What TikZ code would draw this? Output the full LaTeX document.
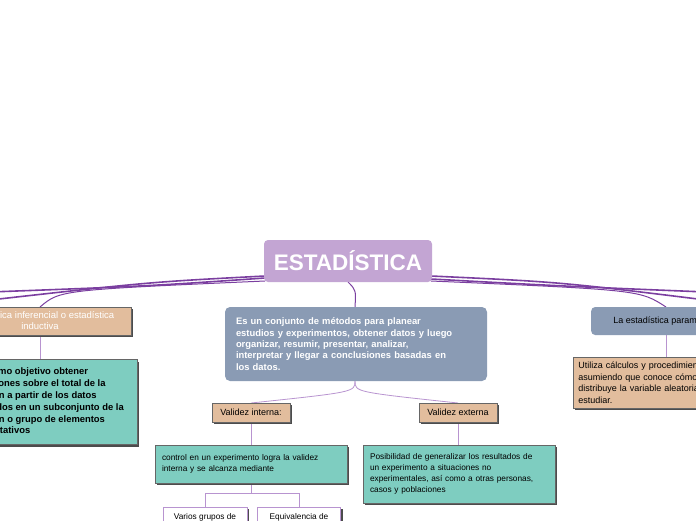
\documentclass[tikz,border=0pt]{standalone}
\usepackage{fontspec}
\setmainfont{Liberation Sans}
\usetikzlibrary{shadows}
\definecolor{tit}{HTML}{C3A5D3}
\definecolor{blu}{HTML}{8A9BB4}
\definecolor{tan}{HTML}{E2BD9D}
\definecolor{grn}{HTML}{7ECDC0}
\definecolor{thk}{HTML}{7B3FA0}
\definecolor{thn}{HTML}{B894D0}
\tikzset{
 px/.style={x=1pt,y=-1pt},
 sh/.style={drop shadow={shadow xshift=2pt,shadow yshift=-2pt,fill=black!70,opacity=1}},
 box/.style={draw=black!60,line width=0.5pt,sh,inner sep=0pt},
 thick line/.style={draw=thk,line width=1.6pt},
 thin line/.style={draw=thn,line width=0.8pt},
}
\hyphenpenalty=10000
\exhyphenpenalty=10000
\begin{document}
\begin{tikzpicture}[px]
\useasboundingbox (0,0) rectangle (696,520);
\clip (0,0) rectangle (696,520);
\draw[thick line] (265,276) .. controls (150,282) .. (-10,300);
\draw[thick line] (265,278) .. controls (150,286) .. (-10,292);
\draw[thick line] (431,276) .. controls (560,282) .. (706,300);
\draw[thick line] (431,279) .. controls (560,286) .. (706,292);
\draw[thk,line width=1pt] (265,281) .. controls (60,290) .. (40,307);
\draw[thk,line width=1pt] (431,281) .. controls (640,290) .. (666,307);
\draw[thk,line width=1pt] (348,282) .. controls (356,290) .. (355,307);
\draw[thin line] (355,381) .. controls (355,392) .. (251,403);
\draw[thin line] (355,381) .. controls (355,392) .. (458,403);
\draw[thin line] (40,335) -- (40,360);
\draw[thin line] (666,335) -- (666,357);
\draw[thin line] (251,422) -- (251,445);
\draw[thin line] (458,422) -- (458,445);
\draw[thin line] (251,483) -- (251,493) -- (205,493) -- (205,507);
\draw[thin line] (251,493) -- (299,493) -- (299,507);
\node[fill=tit,rounded corners=4pt,minimum width=168pt,minimum height=42pt,text=white,font=\fontsize{22.5}{25}\selectfont\bfseries] (title) at (348,261) {ESTADÍSTICA};
\node[fill=blu,rounded corners=5pt,minimum width=262pt,minimum height=74pt,text=white,font=\fontsize{9.4}{11.3}\selectfont\bfseries,text width=240pt,align=left] (desc) at (356,344) {Es un conjunto de métodos para planear\\estudios y experimentos, obtener datos y luego\\organizar, resumir, presentar, analizar,\\interpretar y llegar a conclusiones basadas en\\los datos.};
\node[box,fill=tan,minimum width=182pt,minimum height=28pt,text=white,align=center,font=\fontsize{9.5}{11}\selectfont] (inf) at (40,321) {Estadística inferencial o estadística\\inductiva};
\node[box,fill=grn,minimum width=190pt,minimum height=85pt,align=left,font=\fontsize{9.4}{11.8}\selectfont\bfseries] (infd) at (42,402) {Tiene como objetivo obtener\\conclusiones sobre el total de la\\población a partir de los datos\\observados en un subconjunto de la\\población o grupo de elementos\\representativos};
\node[fill=blu,rounded corners=4pt,minimum width=150pt,minimum height=28pt,font=\fontsize{9}{11}\selectfont,anchor=west,inner xsep=18pt] (par) at (591,321) {La estadística paramétrica};
\node[box,fill=tan,minimum height=51pt,text width=176pt,align=left,anchor=north west,font=\fontsize{9}{11.5}\selectfont,inner xsep=5pt] (pard) at (573,357) {Utiliza cálculos y procedimientos\\asumiendo que conoce cómo se\\distribuye la variable aleatoria a\\estudiar.};
\node[box,fill=tan,minimum width=78pt,minimum height=19pt,font=\fontsize{9}{11}\selectfont] (vi) at (251,412.5) {Validez interna:};
\node[box,fill=tan,minimum width=78pt,minimum height=19pt,font=\fontsize{9}{11}\selectfont] (ve) at (458,412.5) {Validez externa};
\node[box,fill=grn,minimum width=192pt,minimum height=38pt,text width=178pt,align=left,font=\fontsize{8.3}{10.8}\selectfont] (vid) at (251,464) {control en un experimento logra la validez\\interna y se alcanza mediante};
\node[box,fill=grn,minimum width=192pt,minimum height=58pt,text width=178pt,align=left,font=\fontsize{8.3}{10.8}\selectfont] (ved) at (459,474) {Posibilidad de generalizar los resultados de\\un experimento a situaciones no\\experimentales, así como a otras personas,\\casos y poblaciones};
\node[box,fill=white,draw=thn,minimum width=84pt,minimum height=30pt,align=center,anchor=north,font=\fontsize{8.3}{10.5}\selectfont,inner ysep=5pt] (g1) at (205,507) {Varios grupos de\\comparación};
\node[box,fill=white,draw=thn,minimum width=83pt,minimum height=30pt,align=center,anchor=north,font=\fontsize{8.3}{10.5}\selectfont,inner ysep=5pt] (g2) at (299,507) {Equivalencia de\\los grupos};
\end{tikzpicture}
\end{document}
